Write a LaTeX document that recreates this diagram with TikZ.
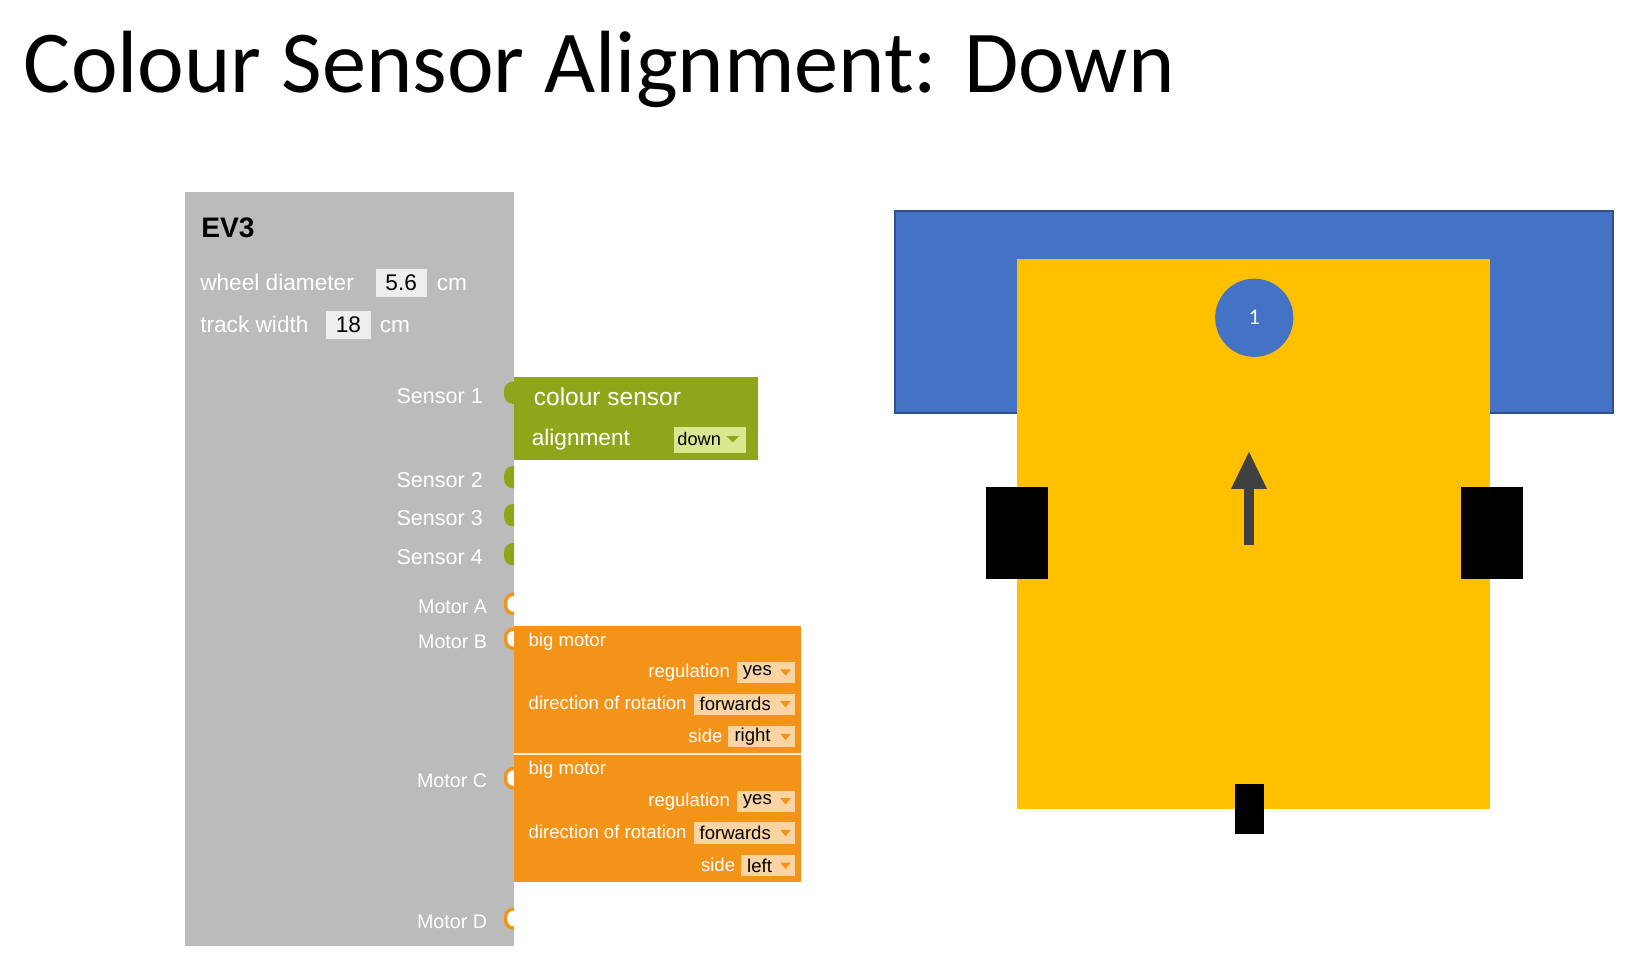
\documentclass[tikz,border=0pt]{standalone}
\usepackage{fontspec}
\setmainfont{Liberation Sans}
\newfontfamily\titlefont{Carlito}
\definecolor{evgray}{HTML}{BBBBBB}
\definecolor{fieldg}{HTML}{EEEEEE}
\definecolor{sgreen}{HTML}{8FA61A}
\definecolor{sfield}{HTML}{D9E88E}
\definecolor{morange}{HTML}{F39419}
\definecolor{ofield}{HTML}{FCD3A0}
\definecolor{blueA}{HTML}{4472C4}
\definecolor{blueB}{HTML}{2F528F}
\definecolor{yelA}{HTML}{FFC000}
\definecolor{arr}{HTML}{404040}
\newcommand\mfield[5]{% x1 x2 yc text tricolor
  \fill[#5!40!white] (#1,#3-10) rectangle (#2,#3+10);
  \node[anchor=west,inner sep=0,font=\fontsize{5pt}{5pt}\selectfont] at (#1+5,#3) {#4};
  \fill[#5] (#2-14,#3-3) -- (#2-4,#3-3) -- (#2-9,#3+3) -- cycle;}
\newcommand\notch[3]{\filldraw[draw=#2,fill=#3,line width=0.9pt,rounded corners=2pt] (487,#1-9) -- (479,#1-9) -- (479,#1+9) -- (487,#1+9);}
\begin{document}
\begin{tikzpicture}[x=0.01cm,y=-0.01cm,
  wl/.style={text=white,inner sep=0,anchor=base east,font=\fontsize{5.8pt}{6pt}\selectfont},
  ml/.style={text=white,inner sep=0,anchor=base east,font=\fontsize{5pt}{5pt}\selectfont}]
\useasboundingbox (0,0) rectangle (1560,922);
\node[anchor=base west,inner sep=0,font=\titlefont\fontsize{23.8pt}{24pt}\selectfont] (title) at (22,88) {Colour Sensor Alignment: Down};
% EV3 block
\fill[evgray] (175,182) rectangle (487,896);
\node[anchor=base west,inner sep=0,font=\bfseries\fontsize{7.6pt}{8pt}\selectfont] (ev3) at (190,225) {EV3};
\node[anchor=base west,inner sep=0,text=white,font=\fontsize{6.1pt}{6pt}\selectfont] (wd) at (189,275) {wheel diameter};
\fill[fieldg] (356,255) rectangle (404,281);
\node[inner sep=0,font=\fontsize{6.1pt}{6pt}\selectfont,anchor=base] at (380,275) {5.6};
\node[anchor=base west,inner sep=0,text=white,font=\fontsize{6.1pt}{6pt}\selectfont] at (413,275) {cm};
\node[anchor=base west,inner sep=0,text=white,font=\fontsize{6.1pt}{6pt}\selectfont] (tw) at (189,315) {track width};
\fill[fieldg] (309,295) rectangle (351,321);
\node[inner sep=0,font=\fontsize{6.1pt}{6pt}\selectfont,anchor=base] at (330,315) {18};
\node[anchor=base west,inner sep=0,text=white,font=\fontsize{6.1pt}{6pt}\selectfont] at (359,315) {cm};
\node[wl] (s1) at (458,382) {Sensor 1};
\node[wl] (s2) at (458,462) {Sensor 2};
\node[wl] (s3) at (458,498) {Sensor 3};
\node[wl] (s4) at (458,535) {Sensor 4};
\node[ml,font=\fontsize{5.3pt}{5pt}\selectfont] (ma) at (462,581) {Motor A};
\node[ml,font=\fontsize{5.3pt}{5pt}\selectfont] (mb) at (462,614) {Motor B};
\node[ml,font=\fontsize{5.3pt}{5pt}\selectfont] (mc) at (462,746) {Motor C};
\node[ml,font=\fontsize{5.3pt}{5pt}\selectfont] (md) at (462,879) {Motor D};
\notch{372}{sgreen}{sgreen}\notch{452}{sgreen}{sgreen}\notch{488}{sgreen}{sgreen}\notch{525}{sgreen}{sgreen}
\notch{572}{morange}{white}\notch{605}{morange}{white}\notch{737}{morange}{white}\notch{870}{morange}{white}
% colour sensor
\fill[sgreen] (487,357) rectangle (718,436);
\node[anchor=base west,inner sep=0,text=white,font=\fontsize{6.6pt}{7pt}\selectfont] (cs) at (505,384) {colour sensor};
\node[anchor=base west,inner sep=0,text=white,font=\fontsize{6.1pt}{6pt}\selectfont] (al) at (503,422) {alignment};
\fill[sfield] (638,404) rectangle (707,429);
\node[anchor=west,inner sep=0,font=\fontsize{4.9pt}{5pt}\selectfont] at (641,416) {down};
\fill[sgreen] (688,413) -- (700,413) -- (694,419) -- cycle;
% motor blocks
\foreach \dy/\side/\sx in {0/right/690,122/left/702}{
  \begin{scope}[yshift=-\dy*0.01cm]
  \fill[morange] (487,593) rectangle (759,713);
  \node[anchor=base west,inner sep=0,text=white,font=\fontsize{5pt}{5pt}\selectfont] at (500,612) {big motor};
  \node[ml] at (692,642) {regulation};
  \mfield{698}{753}{637}{yes}{morange}
  \node[ml] at (651,672) {direction of rotation};
  \mfield{657}{753}{667}{forwards}{morange}
  \node[ml] at (\sx-5,703) {side};
  \mfield{\sx}{753}{698}{\side}{morange}
  \end{scope}}
\draw[white!85!morange,line width=0.5pt] (487,714) -- (759,714);
% robot
\fill[blueA,draw=blueB,line width=0.6pt] (848,200) rectangle (1528,391);
\fill[yelA] (963,245) rectangle (1411,766);
\node[circle,fill=blueA,minimum size=0.74cm,inner sep=0,text=white,font=\titlefont\fontsize{6pt}{6pt}\selectfont] (c1) at (1188,301) {1};
\fill[arr] (1178,463) rectangle (1188,516);
\fill[arr] (1166,463) -- (1200,463) -- (1183,428) -- cycle;
\fill[black] (934,461) rectangle (993,548);
\fill[black] (1384,461) rectangle (1443,548);
\fill[black] (1170,743) rectangle (1197,790);
\end{tikzpicture}
\end{document}
